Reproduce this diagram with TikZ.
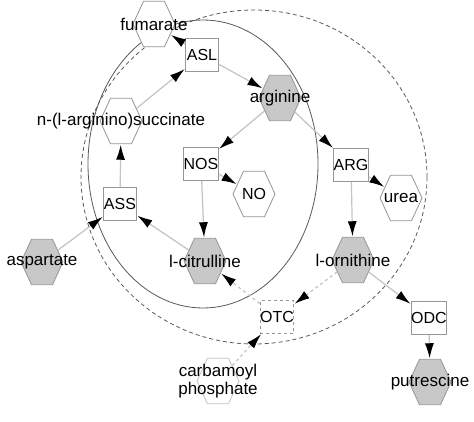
\documentclass[tikz,border=0pt]{standalone}
\usepackage{fontspec}
\setmainfont{Liberation Sans}
\usetikzlibrary{shapes.geometric,arrows.meta}

\begin{document}
\begin{tikzpicture}[x=1pt,y=1pt,
  metab/.style={regular polygon,regular polygon sides=6,minimum size=42pt,inner sep=0pt,
    draw=hexLine,line width=0.8pt,fill=white,yscale=1.25},
  pool/.style={metab,fill=poolFill},
  enz/.style={rectangle,draw=boxLine,line width=0.8pt,minimum size=33pt,inner sep=0pt,
    fill=white,font=\fontsize{16}{17}\selectfont},
  lab/.style={font=\fontsize{17}{18}\selectfont,align=center},
  caplab/.style={font=\fontsize{16}{17}\selectfont},
  flux/.style={draw=edgeColor,line width=1.2pt,shorten >=0.5pt,
    -{Latex[length=15pt,width=9pt,black]}},
  ]
\definecolor{hexLine}{RGB}{150,150,150}
\definecolor{poolFill}{RGB}{200,200,200}
\definecolor{boxLine}{RGB}{150,150,150}
\definecolor{edgeColor}{RGB}{195,195,195}
\definecolor{ringColor}{RGB}{90,90,90}
\path[use as bounding box,fill=white] (0,0) rectangle (474,421);

% compartments
\path[draw=ringColor,line width=0.8pt] (203,257) ellipse (115 and 144);
\path[draw=ringColor,line width=0.8pt,dash pattern=on 4pt off 3pt] (254,244) ellipse (173 and 167);

% metabolites
\node[metab,label={[lab]center:fumarate}] (fum) at (154,397) {};
\node[pool,label={[lab]center:arginine}] (arg) at (280,323) {};
\node[metab,label={[lab]center:n-(l-arginino)succinate}] (nsucc) at (121,300) {};
\node[metab,label={[caplab]center:NO}] (no) at (254,227) {};
\node[metab,label={[lab]center:urea}] (urea) at (401,223) {};
\node[pool,label={[lab]center:aspartate}] (asp) at (42,159) {};
\node[pool,label={[lab]center:l-citrulline}] (cit) at (205,160) {};
\node[pool,label={[lab]center:l-ornithine}] (orn) at (353,161) {};
\node[pool,label={[lab]center:putrescine}] (put) at (430,39) {};
\node[metab,draw=edgeColor,label={[lab]center:carbamoyl\\phosphate}] (carb) at (218,40) {};

% enzymes
\node[enz] (asl) at (202,366) {ASL};
\node[enz] (nos) at (201,257) {NOS};
\node[enz] (argase) at (351,256) {ARG};
\node[enz] (ass) at (120,217) {ASS};
\node[enz,dashed] (otc) at (277,104) {OTC};
\node[enz] (odc) at (429,103) {ODC};

% reactions
\draw[flux] (asl) -- (fum);
\draw[flux] (nsucc) -- (asl);
\draw[flux] (asl) -- (arg);
\draw[flux] (arg) -- (nos);
\draw[flux] (arg) -- (argase);
\draw[flux] (nos) -- (no);
\draw[flux] (nos) -- (cit);
\draw[flux] (argase) -- (urea);
\draw[flux] (argase) -- (orn);
\draw[flux] (ass) -- (nsucc);
\draw[flux] (asp) -- (ass);
\draw[flux] (cit) -- (ass);
\draw[flux,dashed] (orn) -- (otc);
\draw[flux,dashed] (otc) -- (cit);
\draw[flux,dashed] (carb) -- (otc);
\draw[flux] (orn) -- (odc);
\draw[flux] (odc) -- (put);
\end{tikzpicture}
\end{document}
